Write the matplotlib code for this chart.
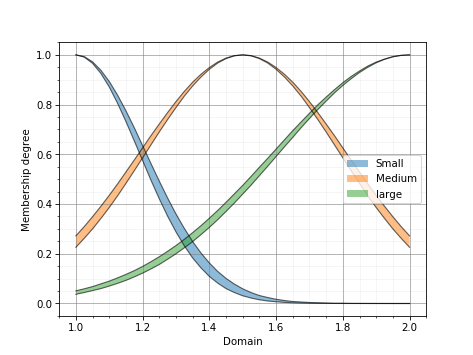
import numpy as np
import matplotlib
matplotlib.use("Agg")
import matplotlib.pyplot as plt

# domain samples and membership values (upper / lower bounds)
domain = np.round(np.linspace(1.0, 2.0, 41), 3)

small_upper = [1.0, 0.993, 0.972, 0.938, 0.893, 0.838, 0.775, 0.707, 0.635, 0.563,
               0.492, 0.424, 0.360, 0.302, 0.249, 0.203, 0.163, 0.129, 0.101, 0.078,
               0.059, 0.044, 0.032, 0.024, 0.017, 0.012, 0.008, 0.006, 0.004, 0.003,
               0.002, 0.001, 0.001, 0.0004, 0.0003, 0.0002, 0.0001, 0.0001, 0.0, 0.0, 0.0]
small_lower = [1.0, 0.991, 0.966, 0.925, 0.871, 0.805, 0.732, 0.654, 0.575, 0.496,
               0.421, 0.351, 0.288, 0.232, 0.183, 0.143, 0.109, 0.082, 0.060, 0.044,
               0.031, 0.022, 0.015, 0.010, 0.007, 0.0045, 0.003, 0.0018, 0.001, 0.0007,
               0.0004, 0.0002, 0.0001, 0.0001, 0.0, 0.0, 0.0, 0.0, 0.0, 0.0, 0.0]

medium_upper = [0.272, 0.309, 0.349, 0.391, 0.435, 0.481, 0.529, 0.577, 0.626, 0.675,
                0.722, 0.768, 0.812, 0.853, 0.890, 0.922, 0.949, 0.971, 0.987, 0.997,
                1.0,
                0.997, 0.987, 0.971, 0.949, 0.922, 0.890, 0.853, 0.812, 0.768, 0.722,
                0.675, 0.626, 0.577, 0.529, 0.481, 0.435, 0.391, 0.349, 0.309, 0.272]
medium_lower = [0.226, 0.262, 0.300, 0.342, 0.386, 0.433, 0.483, 0.534, 0.586, 0.638,
                0.690, 0.740, 0.788, 0.834, 0.875, 0.911, 0.942, 0.967, 0.985, 0.996,
                1.0,
                0.996, 0.985, 0.967, 0.942, 0.911, 0.875, 0.834, 0.788, 0.740, 0.690,
                0.638, 0.586, 0.534, 0.483, 0.433, 0.386, 0.342, 0.300, 0.262, 0.226]

large_upper = [0.051, 0.059, 0.068, 0.079, 0.090, 0.103, 0.117, 0.132, 0.149, 0.168,
               0.188, 0.210, 0.233, 0.258, 0.285, 0.313, 0.343, 0.374, 0.407, 0.441,
               0.475, 0.511, 0.548, 0.584, 0.621, 0.658, 0.695, 0.730, 0.765, 0.799,
               0.830, 0.860, 0.888, 0.913, 0.935, 0.955, 0.971, 0.983, 0.993, 0.998, 1.0]
large_lower = [0.037, 0.044, 0.052, 0.060, 0.070, 0.081, 0.093, 0.107, 0.122, 0.139,
               0.157, 0.178, 0.200, 0.224, 0.249, 0.277, 0.306, 0.337, 0.370, 0.404,
               0.440, 0.476, 0.514, 0.552, 0.591, 0.630, 0.668, 0.707, 0.744, 0.780,
               0.814, 0.847, 0.877, 0.904, 0.929, 0.950, 0.968, 0.982, 0.992, 0.998, 1.0]

labels = ["Small", "Medium", "large"]
uppers = [small_upper, medium_upper, large_upper]
lowers = [small_lower, medium_lower, large_lower]

fig = plt.figure(figsize=(6.4, 4.8), dpi=74)

for up, lo, lab in zip(uppers, lowers, labels):
    plt.fill_between(domain, up, lo, alpha=0.5, label=lab)
    plt.plot(domain, up, color="black", alpha=0.6, linewidth=1.1)
    plt.plot(domain, lo, color="black", alpha=0.6, linewidth=1.1)

plt.legend(loc="center right")
plt.minorticks_on()
plt.grid(which="major", linestyle="-", linewidth=0.8, color="gray", alpha=0.7)
plt.grid(which="minor", linestyle="-", linewidth=0.5, color="gray", alpha=0.15)
plt.xlabel("Domain")
plt.ylabel("Membership degree")

plt.savefig("out.png", dpi=74)
